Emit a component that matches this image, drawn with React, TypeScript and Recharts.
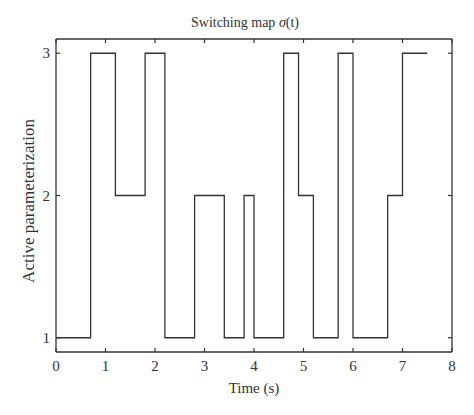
import { LineChart, Line, XAxis, YAxis, ReferenceLine } from "recharts";

const TIMES = [0, 0.7, 1.2, 1.8, 2.2, 2.8, 3.4, 3.8, 4.0, 4.6, 4.9, 5.2, 5.7, 6.0, 6.7, 7.0, 7.5];
const MODES = [1, 3, 2, 3, 1, 2, 1, 2, 1, 3, 2, 1, 3, 1, 2, 3, 3];
const X_TICKS = [0, 1, 2, 3, 4, 5, 6, 7, 8];
const Y_TICKS = [1, 2, 3];

const W = 474;
const H = 415;
const M = { top: 39, right: 22, bottom: 63, left: 56 };
const PLOT_W = W - M.left - M.right;
const PLOT_H = H - M.top - M.bottom;
const INK = "#333";
const FONT = "'Liberation Serif', 'DejaVu Serif', serif";

const data = TIMES.map((t, i) => ({ t, mode: MODES[i] }));

function XTick({ x, y, payload }: any) {
  return (
    <g>
      <line x1={x} x2={x} y1={y} y2={y - 4} stroke={INK} strokeWidth={1.2} />
      <line x1={x} x2={x} y1={y - PLOT_H} y2={y - PLOT_H + 4} stroke={INK} strokeWidth={1.2} />
      <text x={x} y={y + 19} textAnchor="middle" fill={INK} fontSize={15} fontFamily={FONT}>
        {payload.value}
      </text>
    </g>
  );
}

function YTick({ x, y, payload }: any) {
  return (
    <g>
      <line x1={x} x2={x + 4} y1={y} y2={y} stroke={INK} strokeWidth={1.2} />
      <line x1={x + PLOT_W} x2={x + PLOT_W - 4} y1={y} y2={y} stroke={INK} strokeWidth={1.2} />
      <text x={x - 6} y={y + 5} textAnchor="end" fill={INK} fontSize={15} fontFamily={FONT}>
        {payload.value}
      </text>
    </g>
  );
}

export default function App() {
  return (
    <div style={{ position: "absolute", left: 0, top: 0, width: W, height: H, background: "#fff" }}>
      <LineChart width={W} height={H} data={data} margin={{ top: M.top, right: M.right, bottom: 0, left: 0 }}>
        <text x={245} y={27} textAnchor="middle" fill={INK} fontSize={14} fontFamily={FONT}>
          Switching map <tspan fontStyle="italic">σ</tspan>(t)
        </text>
        <text
          x={0}
          y={0}
          transform="translate(34, 201) rotate(-90)"
          textAnchor="middle"
          fill={INK}
          fontSize={17}
          fontFamily={FONT}
        >
          Active parameterization
        </text>
        <text x={254} y={393} textAnchor="middle" fill={INK} fontSize={15} fontFamily={FONT}>
          Time (s)
        </text>
        <XAxis
          dataKey="t"
          type="number"
          domain={[0, 8]}
          ticks={X_TICKS}
          height={M.bottom}
          tickSize={0}
          tickMargin={0}
          tickLine={false}
          axisLine={{ stroke: INK, strokeWidth: 1.3 }}
          tick={<XTick />}
          interval={0}
        />
        <YAxis
          type="number"
          domain={[0.9, 3.1]}
          ticks={Y_TICKS}
          width={M.left}
          tickSize={0}
          tickMargin={0}
          tickLine={false}
          axisLine={{ stroke: INK, strokeWidth: 1.3 }}
          tick={<YTick />}
          interval={0}
        />
        <ReferenceLine y={3.1} stroke={INK} strokeWidth={1.3} />
        <ReferenceLine x={8} stroke={INK} strokeWidth={1.3} />
        <Line
          type="stepAfter"
          dataKey="mode"
          stroke={INK}
          strokeWidth={1.3}
          dot={false}
          isAnimationActive={false}
        />
      </LineChart>
    </div>
  );
}
